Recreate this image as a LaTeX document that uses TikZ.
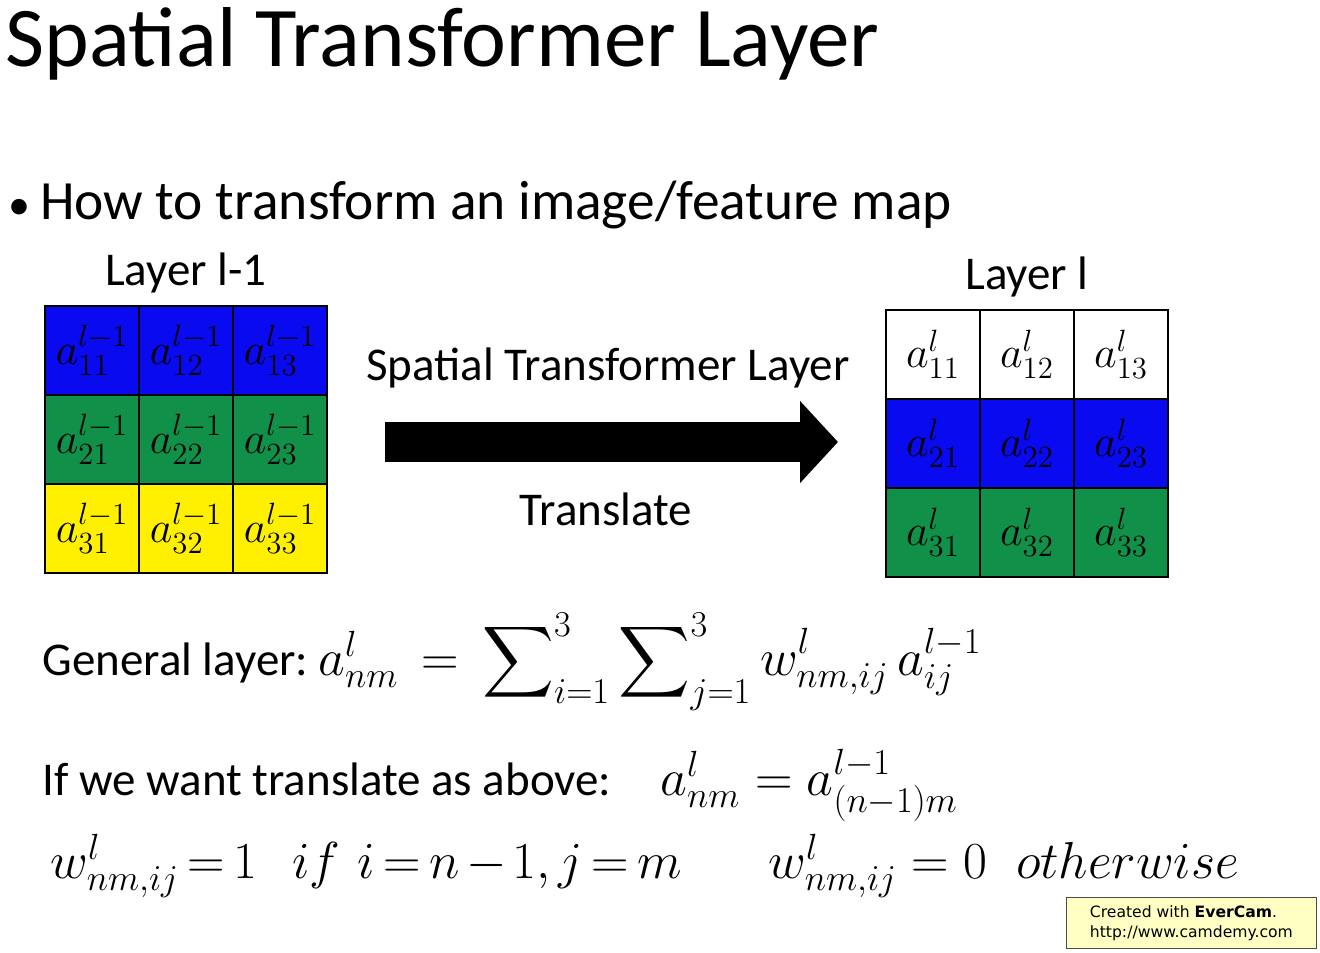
\RequirePackage{fix-cm}
\documentclass[tikz,border=0pt]{standalone}
\usepackage{amsmath}
\usepackage{fontspec}
\setmainfont{Carlito}
\newfontfamily\wmfont{DejaVu Sans}
\usetikzlibrary{positioning,calc,arrows.meta}
\definecolor{cellblue}{RGB}{10,10,240}
\definecolor{cellgreen}{RGB}{16,144,72}
\definecolor{cellyellow}{RGB}{255,240,0}
\definecolor{wmyellow}{RGB}{255,255,196}
\tikzset{  cell/.style={draw,line width=1pt,minimum width=47pt,minimum height=44.5pt,inner sep=0pt,font=\fontsize{22}{26}\selectfont},
  lbl/.style={font=\fontsize{23.5}{28}\selectfont,inner sep=0pt},
  eqn/.style={font=\fontsize{23.5}{28}\selectfont,inner sep=0pt,anchor=base west},
  eqm/.style={font=\fontsize{26}{31}\selectfont,inner sep=0pt,anchor=base west},
  bigarrow/.style={line width=20pt,-{Triangle[length=19pt,width=40pt]}} }

\begin{document}
\begin{tikzpicture}[x=0.5pt,y=-0.5pt]
   \useasboundingbox[fill=white] (0,0) rectangle (1320,952);
   \node[anchor=base west,inner sep=0pt,font=\fontsize{42.5}{50}\selectfont] (title) at (5,67) {Spatial Transformer Layer};
   \node[anchor=base west,inner sep=0pt,font=\fontsize{27.7}{33}\selectfont] (bullet) at (8,220) {{\fontsize{22}{26}\selectfont\textbullet}\hspace{5pt}How to transform an image/feature map};
   % layer l-1 and layer l
   \foreach \i/\col in {1/cellblue,2/cellgreen,3/cellyellow}
     \foreach \j in {1,2,3}
       \node[cell,fill=\col] (p\i\j) at ({92+94*(\j-1)},{350.5+89*(\i-1)}) {$a^{l-1}_{\i\j}$};
   \foreach \i/\col in {1/white,2/cellblue,3/cellgreen}
     \foreach \j in {1,2,3}
       \node[cell,fill=\col] (q\i\j) at ({933+94*(\j-1)},{354.5+89*(\i-1)}) {$a^{l}_{\i\j}$};
   \node[lbl,above=6pt of p12] (prev) {Layer l-1};
   \node[lbl,above=6pt of q12] (cur) {Layer l};
   % the big arrow
   \coordinate (arrS) at (385,442);
   \coordinate (arrE) at (838,442);
   \draw[bigarrow] (arrS) -- (arrE);
   \node[lbl,anchor=base] (stl) at (608,380) {Spatial Transformer Layer};
   \node[lbl,anchor=base] (trans) at (606,525) {Translate};
   % formulas
   \node[eqn] (gen) at (42,675) {General layer:};
   \node[eqm] (genEq) at (318,675) {$a^l_{nm} \,=\, \displaystyle\sum\nolimits_{i=1}^{3}\sum\nolimits_{j=1}^{3} w^l_{nm,ij}\,a^{l-1}_{ij}$};
   \node[eqn] (want) at (42,795) {If we want translate as above:};
   \node[eqm] (wantEq) at (660,795) {$a^l_{nm} = a^{l-1}_{(n-1)m}$};
   \node[eqm] (wOne) at (50,878) {\thickmuskip=3mu\medmuskip=2mu$w^l_{nm,ij} = 1 \;\;\;\; if\;\, i = n-1, j = m$};
   \node[eqm] (wZero) at (768,878) {$w^l_{nm,ij} = 0 \;\; otherwise$};
   % watermark
   \node[draw=black!70,fill=wmyellow,anchor=north west,minimum width=125pt,minimum height=25pt,align=left,inner sep=4pt,font=\wmfont\fontsize{7.8}{10}\selectfont] (wm) at (1066,897) {Created with \textbf{EverCam}.\\http://www.camdemy.com};
\end{tikzpicture}
\end{document}
